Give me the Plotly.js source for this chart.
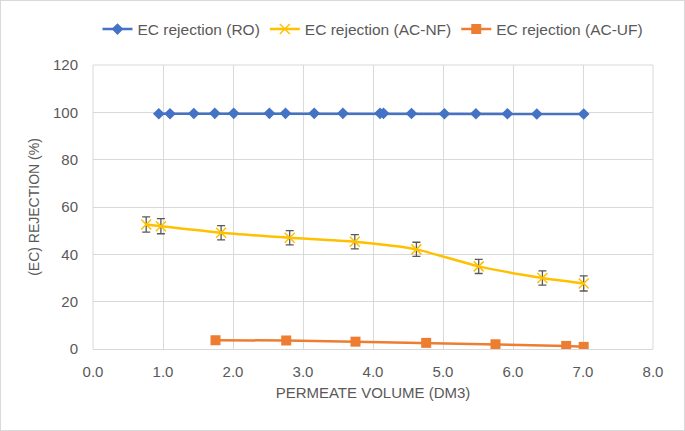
<!DOCTYPE html>
<html><head><meta charset="utf-8">
<script src="https://cdn.plot.ly/plotly-3.0.1.min.js"></script>
<style>
html,body{margin:0;padding:0;background:#fff;}
#chart{width:683px;height:429px;border:1px solid #d9d9d9;}
</style></head>
<body><div id="chart"></div>
<script>
const roX = [0.94, 1.10, 1.44, 1.74, 2.01, 2.52, 2.75, 3.16, 3.57, 4.10, 4.15, 4.55, 5.02, 5.47, 5.92, 6.34, 7.01];
const roY = [99.4, 99.4, 99.5, 99.6, 99.6, 99.6, 99.6, 99.6, 99.6, 99.6, 99.6, 99.5, 99.4, 99.4, 99.4, 99.3, 99.3];
const nfX = [0.76, 0.97, 1.83, 2.81, 3.74, 4.62, 5.51, 6.42, 7.01];
const nfY = [52.6, 51.9, 49.1, 47.0, 45.3, 42.1, 34.9, 30.0, 27.7];
const nfErr = [3.2, 3.2, 3.0, 3.0, 3.0, 3.0, 3.0, 3.0, 3.2];
const ufX = [1.75, 2.76, 3.75, 4.76, 5.75, 6.76, 7.01];
const ufY = [3.7, 3.6, 3.1, 2.6, 2.0, 1.3, 0.9];
const xTicks = [0,1,2,3,4,5,6,7,8];
const xTickText = ['0.0','1.0','2.0','3.0','4.0','5.0','6.0','7.0','8.0'];

const font = "Liberation Sans, Arial, sans-serif";
const grey = '#595959';

const traces = [
  {x: roX, y: roY, name: 'EC rejection (RO)', mode: 'lines+markers', type: 'scatter',
   line: {color: '#4472C4', width: 2.5},
   marker: {symbol: 'diamond', size: 9, color: '#4472C4'}},
  {x: nfX, y: nfY, name: 'EC rejection (AC-NF)', mode: 'lines+markers', type: 'scatter',
   line: {color: '#FFC000', width: 2.5, shape: 'spline', smoothing: 0.6},
   marker: {symbol: 'x-thin-open', size: 10, color: '#FFC000', line: {color: '#FFC000', width: 1.5}},
   error_y: {type: 'data', array: nfErr, visible: true, color: grey, thickness: 1.3, width: 4}},
  {x: ufX, y: ufY, name: 'EC rejection (AC-UF)', mode: 'lines+markers', type: 'scatter',
   line: {color: '#ED7D31', width: 2.5},
   marker: {symbol: 'square', size: 10, color: '#ED7D31'}}
];

const layout = {
  width: 683, height: 429,
  margin: {l: 92, r: 31, t: 62, b: 81},
  paper_bgcolor: '#fff', plot_bgcolor: '#fff',
  font: {family: font, size: 15, color: grey},
  showlegend: true,
  legend: {orientation: 'h', x: 0.5, xanchor: 'center', y: 1.125, yanchor: 'middle',
           font: {family: font, size: 15.5, color: grey}, itemwidth: 30, traceorder: 'normal'},
  xaxis: {range: [0, 8], tickvals: xTicks, ticktext: xTickText, showgrid: true, gridcolor: '#d9d9d9',
          gridwidth: 1, zeroline: false, showline: true, linecolor: '#d9d9d9', mirror: false,
          ticks: '', ticklabelstandoff: 9, tickfont: {size: 15, color: grey},
          title: {text: 'PERMEATE VOLUME (DM3)', font: {size: 15, color: grey}, standoff: 8}},
  yaxis: {range: [0, 120], dtick: 20, showgrid: true, gridcolor: '#d9d9d9', gridwidth: 1,
          zeroline: false, showline: false, ticks: '', ticklabelstandoff: 14,
          tickfont: {size: 15, color: grey},
          title: {text: '(EC) REJECTION (%)', font: {size: 14, color: grey}, standoff: 10}},
  shapes: [
    {type: 'line', xref: 'paper', yref: 'paper', x0: 0, x1: 0, y0: 0, y1: 1, line: {color: '#d9d9d9', width: 1}},
    {type: 'line', xref: 'paper', yref: 'paper', x0: 1, x1: 1, y0: 0, y1: 1, line: {color: '#d9d9d9', width: 1}},
    {type: 'line', xref: 'paper', yref: 'paper', x0: 0, x1: 1, y0: 1, y1: 1, line: {color: '#d9d9d9', width: 1}}
  ]
};

Plotly.newPlot('chart', traces, layout, {displayModeBar: false, staticPlot: true});
</script></body></html>
